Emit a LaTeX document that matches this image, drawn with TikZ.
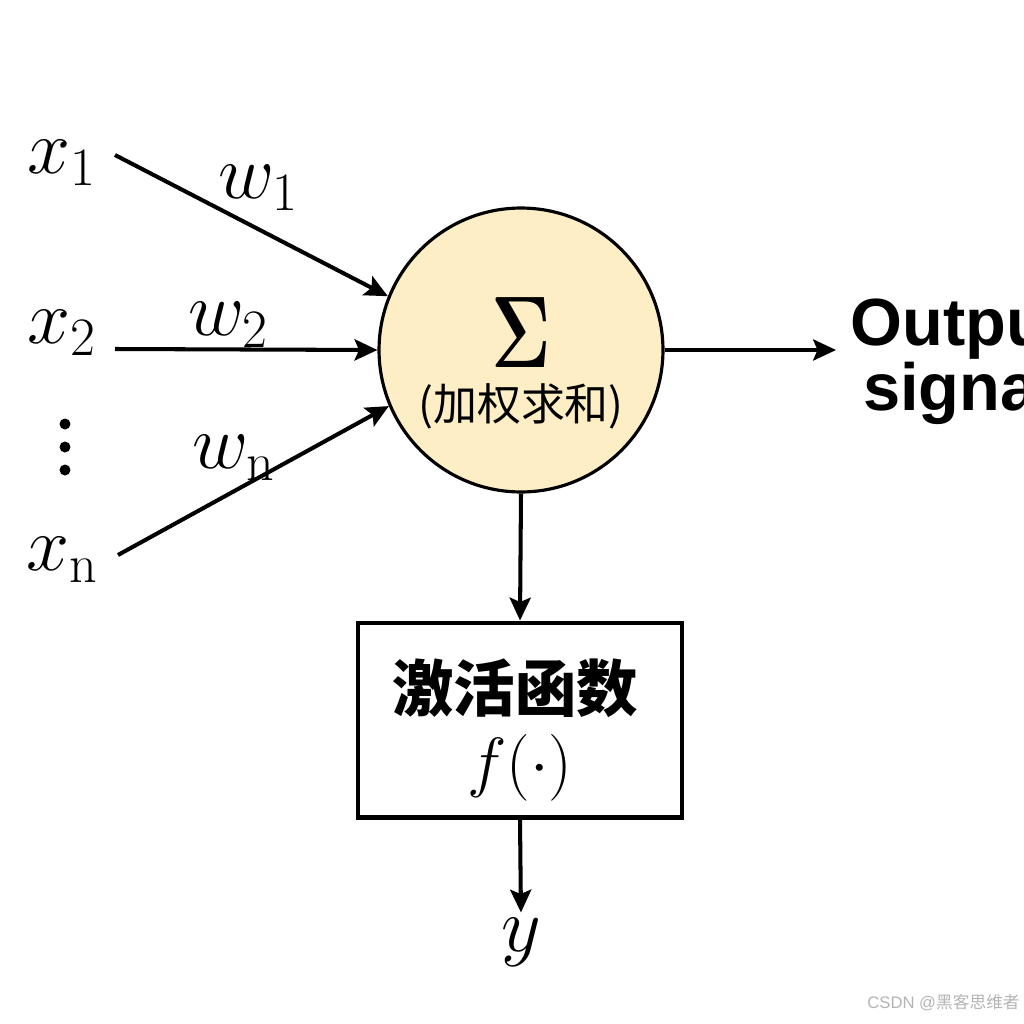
\RequirePackage{fix-cm}
\documentclass[tikz,border=0pt]{standalone}
\usepackage[no-math]{fontspec}
\usepackage{amsmath}
\newfontfamily\sansf{Liberation Sans}
\newfontfamily\cjk{Noto Sans CJK SC}
\usetikzlibrary{arrows.meta}
\definecolor{sumfill}{HTML}{FDEEC6}
\definecolor{wmgray}{HTML}{B4B4B4}
\begin{document}
\begin{tikzpicture}[x=0.02cm,y=-0.02cm,
  conn/.style={line width=2.3pt,-{Stealth[length=13pt,width=12pt,inset=2.5pt]}},
  lbl/.style={inner sep=0pt},
  mathbig/.style={font=\fontsize{44}{50}\selectfont}]
\useasboundingbox (0,0) rectangle (1024,1024);
% summation node
\node[circle,draw,line width=1.8pt,fill=sumfill,minimum size=5.68cm,inner sep=0pt] (sum) at (521,350) {};
\node[lbl] (sigma) at (521,333) {\fontsize{58}{60}\selectfont\scalebox{0.72}[1]{$\mathbf{\Sigma}$}};
\node[lbl] (sumtxt) at (521,406) {\cjk\fontsize{25}{30}\selectfont (加权求和)};
% inputs
\node[lbl,mathbig] (x1) at (62,163) {$x_1$};
\node[lbl,mathbig] (x2) at (62,333) {$x_2$};
\node[lbl,mathbig] (xn) at (62,560) {$x_{\mathrm{n}}$};
\foreach \yy in {424,447,470} \fill (65,\yy) circle (0.11cm);
\coordinate (s1) at (115,155);
\coordinate (s2) at (115,349);
\coordinate (sn) at (118,555);
\draw[conn] (s1) -- (sum.158);
\draw[conn] (s2) -- (sum.west);
\draw[conn] (sn) -- (sum.203);
\node[lbl,mathbig] (w1) at (258,188) {$w_1$};
\node[lbl,mathbig] (w2) at (228,325) {$w_2$};
\node[lbl,mathbig] (wn) at (234,458) {$w_{\mathrm{n}}$};
% output
\node[lbl,anchor=west,align=center,font=\sansf\bfseries\fontsize{38}{37}\selectfont] (out) at (850,362) {Output\\signal};
\draw[conn,shorten >=0.28cm] (sum.east) -- (sum.east -| out.west);
% activation
\node[draw,line width=2.3pt,minimum width=6.5cm,minimum height=3.9cm,inner sep=0pt] (act) at (520,720) {};
\node[lbl] (acttxt) at (515,688) {\cjk\bfseries\fontsize{35}{40}\selectfont 激活函数};
\node[lbl,font=\fontsize{38}{44}\selectfont] (f) at (520,768) {$f(\cdot)$};
\draw[conn] (sum.south) -- (act.north);
\node[lbl,mathbig] (y) at (521,942) {$y$};
\draw[conn,shorten >=0.1cm] (act.south) -- (y.north);
% watermark
\node[lbl,anchor=east,text=wmgray,font=\sansf\fontsize{9.5}{10}\selectfont] (wm) at (1020,1003) {CSDN @{\cjk 黑客思维者}};
\end{tikzpicture}
\end{document}
